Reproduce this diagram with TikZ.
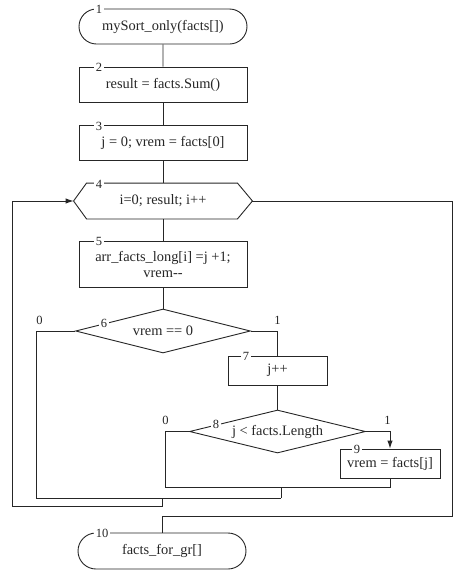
\documentclass[tikz,border=0pt]{standalone}
\usepackage{fontspec}
\setmainfont{Liberation Serif}
\usetikzlibrary{shapes.misc,shapes.geometric,arrows.meta}
\begin{document}
\begin{tikzpicture}[x=1pt,y=-1pt, line width=0.9pt, color=black!85,
  proc/.style={draw, rectangle, minimum width=168pt, minimum height=35pt, inner sep=0pt, font=\fontsize{14.4}{16}\selectfont, align=center},
  term/.style={draw, rounded rectangle, minimum width=168pt, minimum height=35pt, inner sep=0pt, font=\fontsize{14.4}{16}\selectfont},
  dec/.style={draw, diamond, aspect=4, inner sep=0pt, font=\fontsize{14.4}{16}\selectfont},
  hexbox/.style={rectangle, minimum width=178pt, minimum height=35pt, inner sep=0pt, font=\fontsize{14.4}{16}\selectfont},
  num/.style={fill=white, inner sep=1.5pt, font=\fontsize{12.5}{12.5}\selectfont},
  br/.style={inner sep=0pt, font=\fontsize{12.5}{12.5}\selectfont},
  arr/.style={-{Latex[length=8pt,width=5.5pt]}}]
\useasboundingbox (0,0) rectangle (474,571);

\node[term] (n1) at (163,26.5) {mySort\_only(facts[])};
\node[proc] (n2) at (163,84.5) {result = facts.Sum()};
\node[proc] (n3) at (163,143) {j = 0; vrem = facts[0]};
\node[hexbox] (n4) at (163,201) {i=0; result; i++};
\draw ([xshift=13pt]n4.north west) -- ([xshift=-15pt]n4.north east) -- (n4.east)
  -- ([xshift=-15pt]n4.south east) -- ([xshift=13pt]n4.south west) -- (n4.west) -- cycle;
\node[proc, minimum height=46pt] (n5) at (163,264) {arr\_facts\_long[i] =j +1;\\vrem-{}-};
\node[dec, minimum width=175pt, minimum height=44pt] (n6) at (163,331) {vrem == 0};
\node[proc, minimum width=99pt, minimum height=29pt] (n7) at (277.5,370.5) {j++};
\node[dec, minimum width=176pt, minimum height=43pt] (n8) at (277.5,431.5) {j < facts.Length};
\node[proc, minimum width=100pt, minimum height=29pt] (n9) at (390,463.5) {vrem = facts[j]};
\node[term, minimum height=36pt] (n10) at (162,551) {facts\_for\_gr[]};

% number labels
\node[num] (l1) at (99,9) {1};
\node[num] (l2) at (99,67.5) {2};
\node[num] (l3) at (99,126) {3};
\node[num] (l4) at (99,184) {4};
\node[num] (l5) at (99,241.5) {5};
\node[num] (l6) at (104,323.5) {6};
\node[num] (l7) at (246,356.5) {7};
\node[num] (l8) at (216,424) {8};
\node[num] (l9) at (357,449.5) {9};
\node[num] (l10) at (102,533.5) {10};

% coordinates
\coordinate (c6l) at (36,498);
\coordinate (c8l) at (165,487);
\coordinate (j8) at (281,487);
\coordinate (j6) at (281,498);
\coordinate (j6b) at (162,498);
\coordinate (c4a) at (162,506);
\coordinate (c4b) at (12,506);
\coordinate (e1) at (452,516);
\coordinate (e2) at (162,516);

% branch labels
\node[br] (b60) at (39.5,320) {0};
\node[br] (b61) at (277.5,320) {1};
\node[br] (b80) at (165.5,420) {0};
\node[br] (b81) at (387.5,420) {1};

% connectors
\draw (n1) -- (n2);
\draw (n2) -- (n3);
\draw (n3) -- (n4.north);
\draw (n4.south) -- (n5);
\draw (n5) -- (n6);
\draw (n6.east) -| (n7.north);
\draw (n7) -- (n8);
\draw[arr] (n8.east) -| (n9.north);
\draw (n8.west) -| (c8l) -- (n9.south |- c8l) -- (n9.south);
\draw (j8) -- (j6);
\draw (n6.west) -| (c6l) -- (j6);
\draw[arr] (j6b) -- (c4a) -- (c4b) |- (n4.west);
\draw (n4.east) -| (e1) -- (e2) -- (n10.north);
\end{tikzpicture}
\end{document}
